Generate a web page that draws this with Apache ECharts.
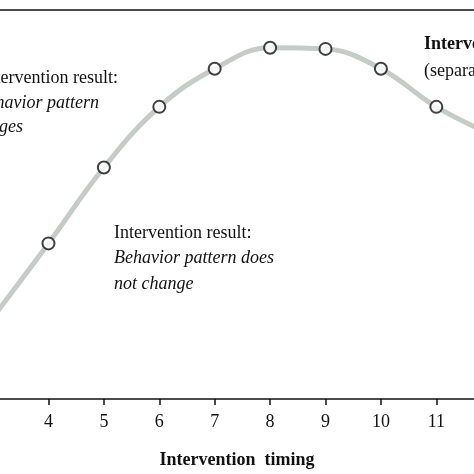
<!DOCTYPE html><html><head><meta charset="utf-8"><script src="https://cdn.jsdelivr.net/npm/echarts@6/dist/echarts.min.js"></script>
<style>html,body{margin:0;padding:0;background:#fff}#c{width:474px;height:474px}</style></head><body><div id="c"></div><script>
const timings=[4,5,6,7,8,9,10,11];
const effect=[40,59.5,75.1,84.9,90.3,90,84.9,75.1];
const curveX=[3,4,5,6,7,8,9,10,11,12];
const curveY=[21,40,59.5,75.1,84.9,90.3,90,84.9,75.1,68];
const ch=echarts.init(document.getElementById('c'));
const F='"Liberation Serif","DejaVu Serif",serif';
const t=(x,y,s,o)=>({type:'text',x:x,y:y,style:Object.assign({text:s,font:'18px '+F,fill:'#111',textVerticalAlign:'alphabetic'},o||{})});
ch.setOption({animation:false,
grid:{left:0,right:0,top:10,bottom:74},
xAxis:{type:'value',min:3.125,max:11.68,
 axisLine:{lineStyle:{color:'#111',width:1.5}},axisTick:{customValues:timings,length:6,lineStyle:{color:'#111',width:1.5}},
 splitLine:{show:false},axisLabel:{customValues:timings,margin:14,color:'#111',fontSize:18,fontFamily:F},
 name:'Intervention  timing',nameLocation:'middle',nameGap:52,nameTextStyle:{fontFamily:F,fontWeight:'bold',fontSize:18,color:'#111'}},
yAxis:{type:'value',min:0,max:100,show:false},
series:[
 {type:'line',data:curveX.map((x,i)=>[x,curveY[i]]),smooth:0.4,showSymbol:false,lineStyle:{color:'#c5cbc7',width:5},z:1},
 {type:'scatter',data:timings.map((x,i)=>[x,effect[i]]),symbolSize:12,itemStyle:{color:'#fff',borderColor:'#111',borderWidth:2},z:3}
],
graphic:[
 {type:'line',shape:{x1:0,y1:10,x2:474,y2:10},style:{stroke:'#111',lineWidth:1.5}},
 t(118,69,'Intervention result:',{textAlign:'right'}),
 t(99,94,'Behavior pattern',{textAlign:'right',font:'italic 18px '+F}),
 t(23,118,'changes',{textAlign:'right',font:'italic 18px '+F}),
 t(114,224,'Intervention result:'),
 t(114,249,'Behavior pattern does',{font:'italic 18px '+F}),
 t(114,275,'not change',{font:'italic 18px '+F}),
 t(424,35,'Intervention window',{font:'bold 18px '+F}),
 t(424,62,'(separation)')
]});
</script></body></html>
